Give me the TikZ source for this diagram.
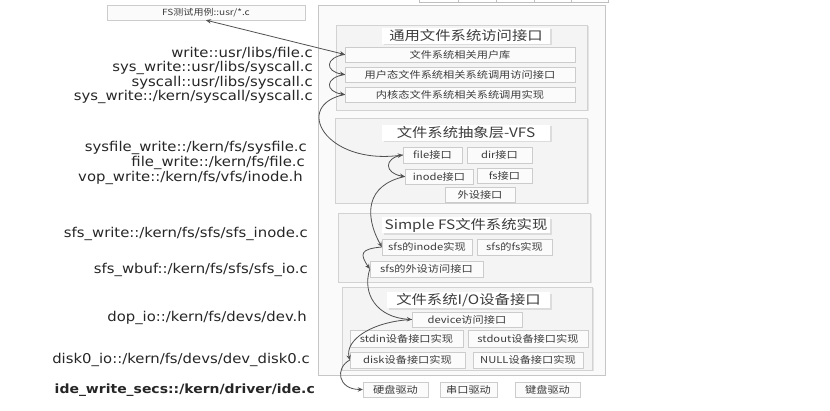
\documentclass[tikz,border=0pt]{standalone}
\usepackage{fontspec}
\newfontfamily\zh[FakeStretch=1.18]{Noto Sans CJK SC}
\newfontfamily\lbl[FakeStretch=1.1]{DejaVu Sans}
\usetikzlibrary{shadows,arrows.meta}
\definecolor{linegray}{HTML}{505050}
\definecolor{textgray}{HTML}{3C3C3C}
\begin{document}
\begin{tikzpicture}[x=1pt,y=-1pt,
    >={Stealth[length=5pt,width=4.5pt]},
    outerbox/.style={draw=gray!45,fill=gray!4,inner sep=0pt},
    secbox/.style={draw=gray!35,fill=gray!9,inner sep=0pt,
      drop shadow={opacity=0.18,shadow xshift=1.5pt,shadow yshift=-1.5pt}},
    titlebox/.style={fill=white,inner sep=0pt,minimum width=168,minimum height=16,
      text=textgray,font=\zh\fontsize{13}{14}\selectfont,
      drop shadow={opacity=0.2,shadow xshift=1.5pt,shadow yshift=-1.5pt}},
    subbox/.style={draw=gray!40,fill=gray!3,inner sep=0pt,minimum height=15.5,
      text=textgray,font=\zh\fontsize{9.5}{10}\selectfont,
      drop shadow={opacity=0.25,shadow xshift=1.2pt,shadow yshift=-1.2pt}},
    srcname/.style={anchor=east,inner sep=0pt,text=black!85,font=\lbl\fontsize{13.5}{15}\selectfont},
    flow/.style={draw=linegray,line width=0.8pt,->}]
\useasboundingbox (0,0) rectangle (830,411);

\draw[gray!50] (419,0) -- (419,2) -- (608,2) -- (608,0);
\foreach \x in {458,496,534,571}
  \draw[gray!50] (\x,0) -- (\x,2);

\node[subbox,minimum width=198,minimum height=15,font=\zh\fontsize{8.5}{9}\selectfont] (test) at (206,12.5) {FS测试用例::usr/*.c};

\node[outerbox,minimum width=287,minimum height=370] (outer) at (461.5,190) {};

\node[secbox,minimum width=251,minimum height=85] (sec1) at (461.5,67.5) {};
\node[titlebox] (t1) at (466,36) {通用文件系统访问接口};
\node[subbox,minimum width=230] (lib) at (460,54.5) {文件系统相关用户库};
\node[subbox,minimum width=230] (ucall) at (460,74.5) {用户态文件系统相关系统调用访问接口};
\node[subbox,minimum width=230] (kcall) at (460,94.5) {内核态文件系统相关系统调用实现};

\node[secbox,minimum width=252,minimum height=85] (sec2) at (461,160.5) {};
\node[titlebox] (t2) at (466,133) {文件系统抽象层-VFS};
\node[subbox,minimum width=59] (file) at (432.5,155) {file接口};
\node[subbox,minimum width=65] (dir) at (499.5,155) {dir接口};
\node[subbox,minimum width=68] (inode) at (439,176.5) {inode接口};
\node[subbox,minimum width=55] (fs) at (504.5,175.5) {fs接口};
\node[subbox,minimum width=70] (dev) at (480,194.5) {外设接口};

\node[secbox,minimum width=252,minimum height=69] (sec3) at (464,247.5) {};
\node[titlebox] (t3) at (466,225.5) {Simple FS文件系统实现};
\node[subbox,minimum width=90] (sfsinode) at (427,247) {sfs的inode实现};
\node[subbox,minimum width=75] (sfsfs) at (514.5,247) {sfs的fs实现};
\node[subbox,minimum width=113] (sfsio) at (426.5,269) {sfs的外设访问接口};

\node[secbox,minimum width=250,minimum height=83] (sec4) at (467,328.5) {};
\node[titlebox,minimum width=163] (t4) at (468.5,300.5) {文件系统I/O设备接口};
\node[subbox,minimum width=110] (device) at (467,319.5) {device访问接口};
\node[subbox,minimum width=113,minimum height=17] (stdin) at (406.5,338.5) {stdin设备接口实现};
\node[subbox,minimum width=120,minimum height=17] (stdout) at (528,338.5) {stdout设备接口实现};
\node[subbox,minimum width=115,minimum height=16] (disk) at (407.5,360) {disk设备接口实现};
\node[subbox,minimum width=110,minimum height=16] (null) at (528,360) {NULL设备接口实现};

\node[subbox,minimum width=65,minimum height=15] (hdd) at (395.5,389.5) {硬盘驱动};
\node[subbox,minimum width=57,minimum height=15] (uart) at (468.5,389.5) {串口驱动};
\node[subbox,minimum width=65,minimum height=15] (kbd) at (547.5,389.5) {键盘驱动};

\node[srcname] (n1) at (313,53) {write::usr/libs/file.c};
\node[srcname] (n2) at (313,68) {sys\_write::usr/libs/syscall.c};
\node[srcname] (n3) at (313,82.5) {syscall::usr/libs/syscall.c};
\node[srcname] (n4) at (313,97) {sys\_write::/kern/syscall/syscall.c};
\node[srcname] (n5) at (307,148) {sysfile\_write::/kern/fs/sysfile.c};
\node[srcname] (n6) at (305,163) {file\_write::/kern/fs/file.c};
\node[srcname] (n7) at (303,178) {vop\_write::/kern/fs/vfs/inode.h};
\node[srcname] (n8) at (308,233.5) {sfs\_write::/kern/fs/sfs/sfs\_inode.c};
\node[srcname] (n9) at (308,270) {sfs\_wbuf::/kern/fs/sfs/sfs\_io.c};
\node[srcname] (n10) at (307,318) {dop\_io::/kern/fs/devs/dev.h};
\node[srcname] (n11) at (310,360) {disk0\_io::/kern/fs/devs/dev\_disk0.c};
\node[srcname,font=\lbl\bfseries\fontsize{12.7}{15}\selectfont] (n12) at (315,390) {ide\_write\_secs::/kern/driver/ide.c};

\draw[flow,<->] (test.south) -- (lib.west);
\draw[flow] (lib.west) .. controls +(-20,3) and +(-20,-3) .. (ucall.west);
\draw[flow] (ucall.west) .. controls +(-20,3) and +(-20,-3) .. (kcall.west);
\draw[flow] (kcall.west) .. controls (292,105) and (325,165) .. (file.west);
\draw[flow] (file.west) .. controls +(-20,3) and +(-20,-3) .. (inode.west);
\draw[flow] (inode.west) .. controls (366,185) and (364,215) .. (sfsinode.west);
\draw[flow] (sfsinode.west) .. controls +(-22,2) and +(-10,-15) .. (sfsio.west);
\draw[flow] (sfsio.west) .. controls +(-8,25) and +(-35,-2) .. (device.west);
\draw[flow] (device.west) .. controls +(-40,2) and +(-5,-20) .. (disk.west);
\draw[flow] (disk.west) .. controls +(-15,8) and +(-25,0) .. (hdd.west);
\end{tikzpicture}
\end{document}
